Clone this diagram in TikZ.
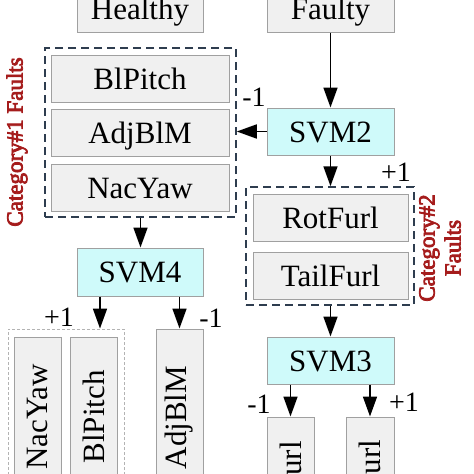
\documentclass[tikz,border=0pt]{standalone}
\usepackage{fontspec}
\setmainfont{Liberation Serif}
\newfontfamily\catfont{Liberation Serif}[FakeBold=3.5]
\usetikzlibrary{arrows.meta}
\definecolor{boxfill}{HTML}{F0F0F0}
\definecolor{boxline}{HTML}{A0A0A0}
\definecolor{svmfill}{HTML}{CFFAFA}
\definecolor{dashcol}{HTML}{2E3D4F}
\definecolor{catred}{HTML}{A51C1C}
\tikzset{
  box/.style={draw=boxline, line width=1pt, fill=boxfill, inner sep=0pt,
    font=\fontsize{31}{36}\selectfont, text height=21pt, text depth=0pt},
  svm/.style={box, fill=svmfill},
  vbox/.style={draw=boxline, line width=1pt, fill=boxfill, inner sep=0pt,
    font=\fontsize{31}{36}\selectfont, minimum width=47pt},
  group/.style={draw=dashcol, line width=1.5pt, dash pattern=on 8pt off 5pt, inner sep=0pt},
  lgroup/.style={draw=boxline!80, line width=0.9pt, dash pattern=on 3pt off 2pt, inner sep=0pt},
  arr/.style={line width=1.7pt, -{Triangle[length=20pt,width=14pt]}},
  lbl/.style={font=\fontsize{28}{32}\selectfont, inner sep=0pt},
  cat/.style={font=\catfont\fontsize{23}{26}\selectfont, text=catred, rotate=90, inner sep=0pt, align=center}
}
\begin{document}
\begin{tikzpicture}[x=1pt,y=-1pt]
\useasboundingbox (0,0) rectangle (474,474);
\clip (0,0) rectangle (474,474);
% top
\node[box, minimum width=126pt, minimum height=47pt] (healthy) at (140,8.5) {Healthy};
\node[box, minimum width=127pt, minimum height=47pt] (faulty) at (330.5,8.5) {Faulty};
\node[svm, minimum width=127pt, minimum height=47pt] (svm2) at (330.5,131.5) {SVM2};
% category 1
\node[group, minimum width=191pt, minimum height=169pt] (cat1) at (140.5,132.5) {};
\node[box, minimum width=178pt, minimum height=47pt] (blpitch) at (140,78.5) {BlPitch};
\node[box, minimum width=178pt, minimum height=47pt] (adjblm) at (140,132.5) {AdjBlM};
\node[box, minimum width=178pt, minimum height=47pt] (nacyaw) at (140,187.5) {NacYaw};
\node[cat] (cat1lbl) at (17,142) {Category\#1 Faults};
% category 2
\node[group, minimum width=168pt, minimum height=118pt] (cat2) at (330,246) {};
\node[box, minimum width=155pt, minimum height=47pt] (rotfurl) at (330.5,217.5) {RotFurl};
\node[box, minimum width=155pt, minimum height=47pt] (tailfurl) at (330.5,275.5) {TailFurl};
\node[cat] (cat2lbl) at (440,248) {Category\#2\\Faults};
% SVM4 and SVM3
\node[svm, minimum width=126pt, minimum height=48pt] (svm4) at (140,272) {SVM4};
\node[svm, minimum width=127pt, minimum height=47pt] (svm3) at (330.5,360.5) {SVM3};
% bottom left
\node[lgroup, minimum width=116pt, minimum height=190pt] (grp) at (66,424) {};
\node[vbox, minimum height=160pt] (nacyawv) at (37.5,417) {\rotatebox{90}{NacYaw}};
\node[vbox, minimum height=160pt] (blpitchv) at (93.5,417) {\rotatebox{90}{BlPitch}};
\node[vbox, minimum height=177pt] (adjblmv) at (179.5,417.5) {\rotatebox{90}{AdjBlM}};
% bottom right
\node[vbox, minimum height=145pt] (rotfurlv) at (290.5,489.5) {\rotatebox{90}{RotFurl}};
\node[vbox, minimum height=145pt, minimum width=48pt] (tailfurlv) at (370,489.5) {\rotatebox{90}{TailFurl}};
% arrows
\draw[arr] (faulty.south) -- (svm2.north);
\draw[arr] (svm2.west) -- (svm2.west -| cat1.east);
\draw[arr] (svm2.south) -- (svm2.south |- cat2.north);
\draw[arr] (cat1.south) -- (cat1.south |- svm4.north);
\draw[arr] ([xshift=-40pt]svm4.south) -- ([xshift=-40pt]svm4.south |- grp.north);
\draw[arr] (svm4.south -| adjblmv.north) -- (adjblmv.north);
\draw[arr] (cat2.south -| svm3.north) -- (svm3.north);
\draw[arr] (svm3.south -| rotfurlv.north) -- (rotfurlv.north);
\draw[arr] (svm3.south -| tailfurlv.north) -- (tailfurlv.north);
% labels
\node[lbl] (l1) at (254,97) {-1};
\node[lbl] (l2) at (396,172) {+1};
\node[lbl] (l3) at (59,317) {+1};
\node[lbl] (l4) at (211,318) {-1};
\node[lbl] (l5) at (259,404) {-1};
\node[lbl] (l6) at (404,402) {+1};
\end{tikzpicture}
\end{document}
